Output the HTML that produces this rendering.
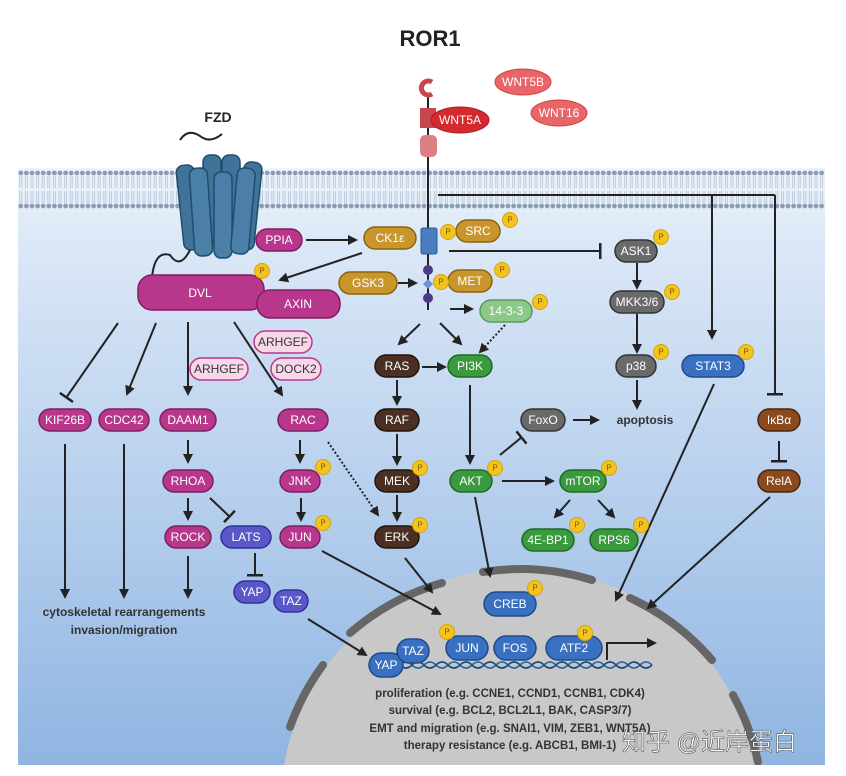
<!DOCTYPE html>
<html><head><meta charset="utf-8"><style>
html,body{margin:0;padding:0;background:#fff;width:846px;height:776px;overflow:hidden}
svg{display:block;overflow:hidden}
text{font-family:"Liberation Sans",sans-serif}
.n{font-size:12px;fill:#fff;text-anchor:middle;dominant-baseline:central}
.pt{font-size:8px;fill:#7a5a00;text-anchor:middle;dominant-baseline:central}
.b{font-weight:bold;fill:#333;text-anchor:middle}
</style></head><body>
<svg width="846" height="776" viewBox="0 0 846 776" xmlns="http://www.w3.org/2000/svg">
<defs>
<linearGradient id="bg" x1="0" y1="0" x2="0" y2="1">
<stop offset="0" stop-color="#eef4fc"/><stop offset="0.12" stop-color="#dce8f7"/><stop offset="1" stop-color="#8fb5e2"/>
</linearGradient>
<marker id="a" markerWidth="10" markerHeight="10" refX="8" refY="5" orient="auto" markerUnits="userSpaceOnUse"><path d="M0,0 L10,5 L0,10 z" fill="#222"/></marker>
<marker id="t" markerWidth="4" markerHeight="16" refX="2" refY="8" orient="auto" markerUnits="userSpaceOnUse"><rect x="0" y="0" width="2.5" height="16" fill="#222"/></marker>
<pattern id="mem" x="18" y="0" width="5.6" height="776" patternUnits="userSpaceOnUse">
<circle cx="2.8" cy="173" r="2.4" fill="#8c9db2"/><circle cx="2.8" cy="206" r="2.4" fill="#8c9db2"/>
<path d="M1.8,176 L1.8,188 M3.8,176 L3.8,188 M1.8,191 L1.8,203 M3.8,191 L3.8,203" stroke="#b4c2d3" stroke-width="0.8"/>
</pattern>
<clipPath id="cl"><rect x="18" y="168" width="807" height="597"/></clipPath>
</defs>
<rect x="18" y="168" width="807" height="597" fill="url(#bg)"/>
<rect x="18" y="168" width="807" height="42" fill="url(#mem)"/>
<text x="430" y="46" class="b" style="font-size:22px;fill:#222">ROR1</text>
<text x="218" y="122" class="b" style="font-size:14px;fill:#222">FZD</text>

<g clip-path="url(#cl)">
<circle cx="520" cy="808" r="240" fill="#c8c8c8"/>
<g fill="none" stroke="#666" stroke-width="8" stroke-linecap="round">
<path d="M290,727 A242,242 0 0 1 323,665"/>
<path d="M350,633 A242,242 0 0 1 442,583"/>
<path d="M483,572 A242,242 0 0 1 592,580"/>
<path d="M630,598 A242,242 0 0 1 712,660"/>
<path d="M733,695 A242,242 0 0 1 758,762"/>
</g>
</g>

<g stroke="#1f4d6b" stroke-width="1.5" fill="#3f7399">
<path d="M180,140 q8,-12 20,-4 q10,8 22,-2" fill="none" stroke="#222" stroke-width="2"/>
<rect x="180" y="165" width="18" height="85" rx="7" transform="rotate(-6 189 207)"/>
<rect x="203" y="155" width="18" height="90" rx="7"/>
<rect x="222" y="155" width="18" height="90" rx="7"/>
<rect x="240" y="162" width="18" height="88" rx="7" transform="rotate(6 249 206)"/>
<rect x="192" y="168" width="18" height="88" rx="7" transform="rotate(-4 201 212)" fill="#4a80a8"/>
<rect x="214" y="172" width="18" height="86" rx="7" fill="#4a80a8"/>
<rect x="234" y="168" width="18" height="86" rx="7" transform="rotate(5 243 211)" fill="#4a80a8"/>
<path d="M190,250 q-10,20 -20,5 q-15,-5 -18,22" fill="none" stroke="#222" stroke-width="2"/>
</g>

<line x1="428" y1="95" x2="428" y2="310" stroke="#222" stroke-width="2"/>
<path d="M432,82 a7,7 0 1 0 0,12" fill="none" stroke="#c8464e" stroke-width="5"/>
<rect x="420" y="108" width="16" height="20" fill="#c8464e"/>
<rect x="420" y="135" width="17" height="22" rx="5" fill="#e07e86"/>
<rect x="421" y="228" width="16" height="26" rx="2" fill="#4a7cc0" stroke="#2a5a98"/>
<circle cx="428" cy="270" r="5" fill="#4a3a8a"/>
<path d="M428,279 l5,5 l-5,5 l-5,-5z" fill="#6a94d4"/>
<circle cx="428" cy="298" r="5" fill="#4a3a8a"/>
<ellipse cx="460" cy="120" rx="29" ry="13" fill="#d42a2f" stroke="#a81a1f"/><text x="460" y="120" class="n">WNT5A</text>
<ellipse cx="523" cy="82" rx="28" ry="13" fill="#e8666a" stroke="#c44"/><text x="523" y="82" class="n">WNT5B</text>
<ellipse cx="559" cy="113" rx="28" ry="13" fill="#e8666a" stroke="#c44"/><text x="559" y="113" class="n">WNT16</text>

<g stroke="#222" stroke-width="2" fill="none">
<polyline points="438,195 775,195"/>
<line x1="712" y1="195" x2="712" y2="338" marker-end="url(#a)"/>
<line x1="775" y1="195" x2="775" y2="395" marker-end="url(#t)"/>
<line x1="306" y1="240" x2="356" y2="240" marker-end="url(#a)"/>
<line x1="362" y1="253" x2="280" y2="280" marker-end="url(#a)"/>
<line x1="398" y1="283" x2="416" y2="283" marker-end="url(#a)"/>
<line x1="449" y1="251" x2="601" y2="251" marker-end="url(#t)"/>
<line x1="637" y1="263" x2="637" y2="288" marker-end="url(#a)"/>
<line x1="637" y1="314" x2="637" y2="352" marker-end="url(#a)"/>
<line x1="637" y1="380" x2="637" y2="408" marker-end="url(#a)"/>
<line x1="450" y1="309" x2="472" y2="309" marker-end="url(#a)"/>
<line x1="505" y1="325" x2="480" y2="352" stroke-dasharray="2 2" marker-end="url(#a)"/>
<line x1="420" y1="324" x2="399" y2="344" marker-end="url(#a)"/>
<line x1="440" y1="323" x2="461" y2="344" marker-end="url(#a)"/>
<line x1="422" y1="367" x2="445" y2="367" marker-end="url(#a)"/>
<line x1="397" y1="380" x2="397" y2="404" marker-end="url(#a)"/>
<line x1="397" y1="434" x2="397" y2="464" marker-end="url(#a)"/>
<line x1="397" y1="495" x2="397" y2="520" marker-end="url(#a)"/>
<line x1="470" y1="385" x2="470" y2="463" marker-end="url(#a)"/>
<line x1="500" y1="455" x2="522" y2="437" marker-end="url(#t)"/>
<line x1="573" y1="420" x2="598" y2="420" marker-end="url(#a)"/>
<line x1="502" y1="481" x2="553" y2="481" marker-end="url(#a)"/>
<line x1="570" y1="500" x2="555" y2="517" marker-end="url(#a)"/>
<line x1="598" y1="500" x2="614" y2="517" marker-end="url(#a)"/>
<line x1="779" y1="441" x2="779" y2="462" marker-end="url(#t)"/>
<line x1="118" y1="323" x2="66" y2="398" marker-end="url(#t)"/>
<line x1="156" y1="323" x2="127" y2="394" marker-end="url(#a)"/>
<line x1="188" y1="322" x2="188" y2="394" marker-end="url(#a)"/>
<line x1="234" y1="322" x2="282" y2="395" marker-end="url(#a)"/>
<line x1="65" y1="444" x2="65" y2="597" marker-end="url(#a)"/>
<line x1="124" y1="444" x2="124" y2="597" marker-end="url(#a)"/>
<line x1="188" y1="440" x2="188" y2="462" marker-end="url(#a)"/>
<line x1="188" y1="498" x2="188" y2="519" marker-end="url(#a)"/>
<line x1="188" y1="556" x2="188" y2="597" marker-end="url(#a)"/>
<line x1="210" y1="498" x2="230" y2="517" marker-end="url(#t)"/>
<line x1="255" y1="553" x2="255" y2="576" marker-end="url(#t)"/>
<line x1="300" y1="440" x2="300" y2="462" marker-end="url(#a)"/>
<line x1="301" y1="498" x2="301" y2="520" marker-end="url(#a)"/>
<line x1="328" y1="442" x2="378" y2="515" stroke-dasharray="2 2" marker-end="url(#a)"/>
<line x1="322" y1="551" x2="440" y2="614" marker-end="url(#a)"/>
<line x1="308" y1="619" x2="366" y2="655" marker-end="url(#a)"/>
<line x1="405" y1="558" x2="432" y2="592" marker-end="url(#a)"/>
<line x1="475" y1="497" x2="490" y2="576" marker-end="url(#a)"/>
<line x1="714" y1="384" x2="616" y2="600" marker-end="url(#a)"/>
<line x1="770" y1="497" x2="648" y2="608" marker-end="url(#a)"/>
<polyline points="607,660 607,643 655,643" marker-end="url(#a)"/>
</g>

<path d="M400,665 q6,-6 12,0 t12,0 t12,0 t12,0 t12,0 t12,0 t12,0 t12,0 t12,0 t12,0 t12,0 t12,0 t12,0 t12,0 t12,0 t12,0 t12,0 t12,0 t12,0 t12,0 t12,0" fill="none" stroke="#2a6aa8" stroke-width="1.6"/>
<path d="M400,665 q6,6 12,0 t12,0 t12,0 t12,0 t12,0 t12,0 t12,0 t12,0 t12,0 t12,0 t12,0 t12,0 t12,0 t12,0 t12,0 t12,0 t12,0 t12,0 t12,0 t12,0 t12,0" fill="none" stroke="#1a4a78" stroke-width="1.6"/>

<rect x="138" y="275" width="126" height="35" rx="14" fill="#b8378c" stroke="#7d1f5f" stroke-width="1.5"/>
<text x="200" y="293" class="n">DVL</text>
<rect x="257" y="290" width="83" height="28" rx="13" fill="#b8378c" stroke="#7d1f5f" stroke-width="1.5"/>
<text x="298" y="304" class="n">AXIN</text>

<g stroke-width="1.5">
<g fill="#b8378c" stroke="#7d1f5f">
<rect x="256" y="229" width="46" height="22" rx="11"/>
<rect x="39" y="409" width="52" height="22" rx="11"/>
<rect x="99" y="409" width="50" height="22" rx="11"/>
<rect x="160" y="409" width="56" height="22" rx="11"/>
<rect x="278" y="409" width="50" height="22" rx="11"/>
<rect x="163" y="470" width="50" height="22" rx="11"/>
<rect x="280" y="470" width="40" height="22" rx="11"/>
<rect x="165" y="526" width="46" height="22" rx="11"/>
<rect x="280" y="526" width="40" height="22" rx="11"/>
</g>
<g fill="#f8d8e8" stroke="#b8378c">
<rect x="190" y="358" width="58" height="22" rx="11"/>
<rect x="254" y="331" width="58" height="22" rx="11"/>
<rect x="271" y="358" width="50" height="22" rx="11"/>
</g>
<g fill="#5a58c8" stroke="#33309a">
<rect x="221" y="526" width="50" height="22" rx="11"/>
<rect x="234" y="581" width="36" height="22" rx="11"/>
<rect x="274" y="590" width="34" height="22" rx="11"/>
</g>
<g fill="#c8962a" stroke="#8a6410">
<rect x="364" y="227" width="52" height="22" rx="11"/>
<rect x="339" y="272" width="58" height="22" rx="11"/>
<rect x="456" y="220" width="44" height="22" rx="11"/>
<rect x="448" y="270" width="44" height="22" rx="11"/>
</g>
<rect x="480" y="300" width="52" height="22" rx="11" fill="#8cc888" stroke="#5a9a56"/>
<g fill="#6a6a6a" stroke="#333">
<rect x="615" y="240" width="42" height="22" rx="11"/>
<rect x="610" y="291" width="54" height="22" rx="11"/>
<rect x="616" y="355" width="40" height="22" rx="11"/>
<rect x="521" y="409" width="44" height="22" rx="11"/>
</g>
<g fill="#4a2f22" stroke="#22140c">
<rect x="375" y="355" width="44" height="22" rx="11"/>
<rect x="375" y="409" width="44" height="22" rx="11"/>
<rect x="375" y="470" width="44" height="22" rx="11"/>
<rect x="375" y="526" width="44" height="22" rx="11"/>
</g>
<g fill="#3a9a3e" stroke="#1f6a22">
<rect x="448" y="355" width="44" height="22" rx="11"/>
<rect x="450" y="470" width="42" height="22" rx="11"/>
<rect x="560" y="470" width="46" height="22" rx="11"/>
<rect x="522" y="529" width="52" height="22" rx="11"/>
<rect x="590" y="529" width="48" height="22" rx="11"/>
</g>
<rect x="682" y="355" width="62" height="22" rx="11" fill="#3a70c0" stroke="#1f4a8a"/>
<g fill="#8a4a1e" stroke="#4a240a">
<rect x="758" y="409" width="42" height="22" rx="11"/>
<rect x="758" y="470" width="42" height="22" rx="11"/>
</g>
<g fill="#3a70c0" stroke="#1f4a8a">
<rect x="484" y="592" width="52" height="24" rx="12"/>
<rect x="446" y="636" width="42" height="24" rx="12"/>
<rect x="494" y="636" width="42" height="24" rx="12"/>
<rect x="546" y="636" width="56" height="24" rx="12"/>
<rect x="369" y="653" width="34" height="24" rx="12"/>
<rect x="397" y="639" width="32" height="24" rx="12"/>
</g>
</g>

<text x="279" y="240" class="n">PPIA</text>
<text x="65" y="420" class="n">KIF26B</text>
<text x="124" y="420" class="n">CDC42</text>
<text x="188" y="420" class="n">DAAM1</text>
<text x="303" y="420" class="n">RAC</text>
<text x="188" y="481" class="n">RHOA</text>
<text x="300" y="481" class="n">JNK</text>
<text x="188" y="537" class="n">ROCK</text>
<text x="300" y="537" class="n">JUN</text>
<text x="219" y="369" class="n" style="fill:#333">ARHGEF</text>
<text x="283" y="342" class="n" style="fill:#333">ARHGEF</text>
<text x="296" y="369" class="n" style="fill:#333">DOCK2</text>
<text x="246" y="537" class="n">LATS</text>
<text x="252" y="592" class="n">YAP</text>
<text x="291" y="601" class="n">TAZ</text>
<text x="390" y="238" class="n">CK1ε</text>
<text x="368" y="283" class="n">GSK3</text>
<text x="478" y="231" class="n">SRC</text>
<text x="470" y="281" class="n">MET</text>
<text x="506" y="311" class="n">14-3-3</text>
<text x="636" y="251" class="n">ASK1</text>
<text x="637" y="302" class="n">MKK3/6</text>
<text x="636" y="366" class="n">p38</text>
<text x="543" y="420" class="n">FoxO</text>
<text x="397" y="366" class="n">RAS</text>
<text x="397" y="420" class="n">RAF</text>
<text x="397" y="481" class="n">MEK</text>
<text x="397" y="537" class="n">ERK</text>
<text x="470" y="366" class="n">PI3K</text>
<text x="471" y="481" class="n">AKT</text>
<text x="583" y="481" class="n">mTOR</text>
<text x="548" y="540" class="n">4E-BP1</text>
<text x="614" y="540" class="n">RPS6</text>
<text x="713" y="366" class="n">STAT3</text>
<text x="779" y="420" class="n">IκBα</text>
<text x="779" y="481" class="n">RelA</text>
<text x="510" y="604" class="n">CREB</text>
<text x="467" y="648" class="n">JUN</text>
<text x="515" y="648" class="n">FOS</text>
<text x="574" y="648" class="n">ATF2</text>
<text x="386" y="665" class="n">YAP</text>
<text x="413" y="651" class="n">TAZ</text>
<text x="645" y="424" class="b" style="font-size:12px">apoptosis</text>
<text x="124" y="616" class="b" style="font-size:12px">cytoskeletal rearrangements</text>
<text x="124" y="634" class="b" style="font-size:12px">invasion/migration</text>
<g class="b" style="font-size:11.5px">
<text x="510" y="697">proliferation (e.g. CCNE1, CCND1, CCNB1, CDK4)</text>
<text x="510" y="714">survival (e.g. BCL2, BCL2L1, BAK, CASP3/7)</text>
<text x="510" y="732">EMT and migration (e.g. SNAI1, VIM, ZEB1, WNT5A)</text>
<text x="510" y="749">therapy resistance (e.g. ABCB1, BMI-1)</text>
</g>

<g fill="#f3c322" stroke="#d9a400">
<circle cx="262" cy="271" r="7.5"/><circle cx="448" cy="232" r="7.5"/><circle cx="510" cy="220" r="7.5"/>
<circle cx="441" cy="282" r="7.5"/><circle cx="502" cy="270" r="7.5"/><circle cx="540" cy="302" r="7.5"/>
<circle cx="661" cy="237" r="7.5"/><circle cx="672" cy="292" r="7.5"/><circle cx="661" cy="352" r="7.5"/>
<circle cx="746" cy="352" r="7.5"/><circle cx="323" cy="467" r="7.5"/><circle cx="323" cy="523" r="7.5"/>
<circle cx="420" cy="468" r="7.5"/><circle cx="420" cy="525" r="7.5"/><circle cx="495" cy="468" r="7.5"/>
<circle cx="609" cy="468" r="7.5"/><circle cx="577" cy="525" r="7.5"/><circle cx="641" cy="525" r="7.5"/>
<circle cx="535" cy="588" r="7.5"/><circle cx="447" cy="632" r="7.5"/><circle cx="585" cy="633" r="7.5"/>
</g>
<g>
<text x="262" y="271" class="pt">P</text><text x="448" y="232" class="pt">P</text><text x="510" y="220" class="pt">P</text>
<text x="441" y="282" class="pt">P</text><text x="502" y="270" class="pt">P</text><text x="540" y="302" class="pt">P</text>
<text x="661" y="237" class="pt">P</text><text x="672" y="292" class="pt">P</text><text x="661" y="352" class="pt">P</text>
<text x="746" y="352" class="pt">P</text><text x="323" y="467" class="pt">P</text><text x="323" y="523" class="pt">P</text>
<text x="420" y="468" class="pt">P</text><text x="420" y="525" class="pt">P</text><text x="495" y="468" class="pt">P</text>
<text x="609" y="468" class="pt">P</text><text x="577" y="525" class="pt">P</text><text x="641" y="525" class="pt">P</text>
<text x="535" y="588" class="pt">P</text><text x="447" y="632" class="pt">P</text><text x="585" y="633" class="pt">P</text>
</g>

<text x="622" y="750" style="font-family:'Liberation Sans','Noto Sans CJK SC',sans-serif;font-size:24px;fill:#fff;stroke:#555;stroke-width:0.6">知乎 @近岸蛋白</text>
</svg>
</body></html>
